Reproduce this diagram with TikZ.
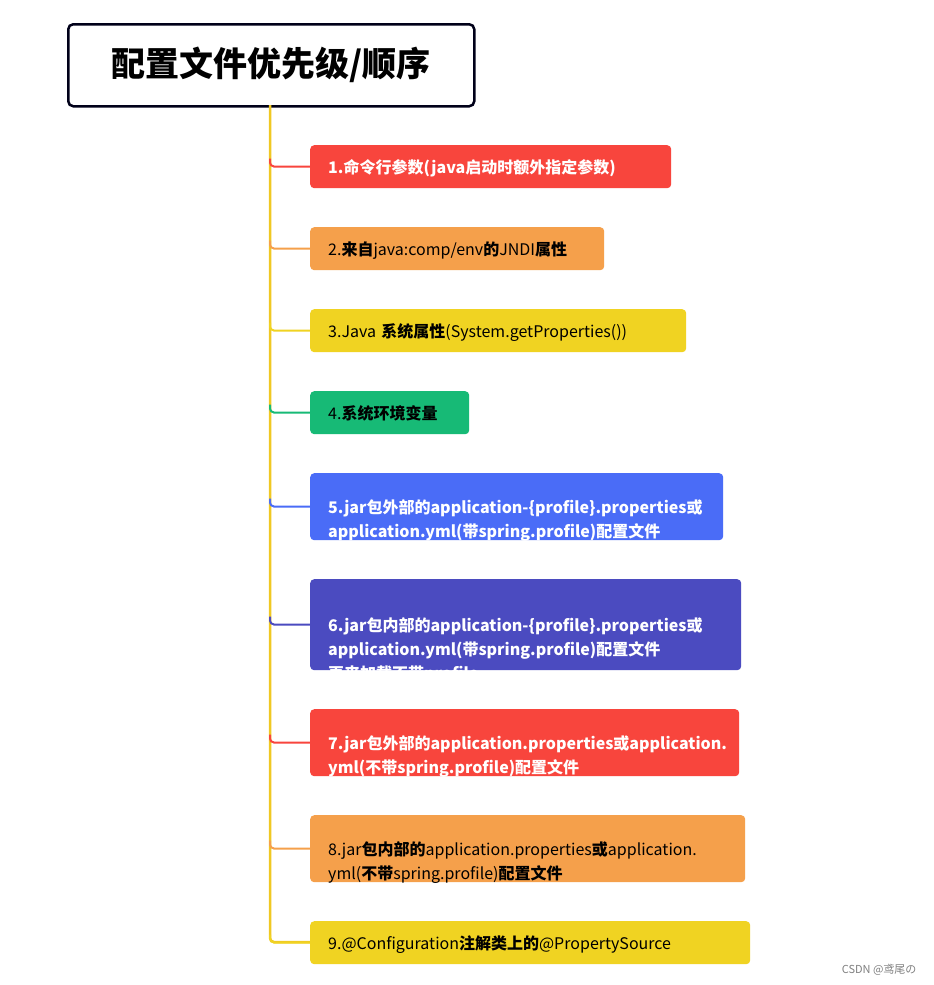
\documentclass[tikz,border=0pt]{standalone}
\usepackage{fontspec}
\setmainfont{Noto Sans CJK SC}
\newcommand{\z}[1]{\textbf{#1}}
\definecolor{cred}{HTML}{F8453D}
\definecolor{corg}{HTML}{F5A04B}
\definecolor{cyel}{HTML}{F0D322}
\definecolor{cgrn}{HTML}{17BA76}
\definecolor{cblu}{HTML}{4A6CF7}
\definecolor{cind}{HTML}{4B4BC0}
\definecolor{cline}{HTML}{F0C823}
\begin{document}
\begin{tikzpicture}[x=1pt,y=-1pt,
  item/.style={anchor=north west,rounded corners=4pt,inner xsep=18pt,inner ysep=0pt,align=left,font=\fontsize{16}{24}\selectfont,text depth=0pt},
  br/.style={line width=2pt}]
\useasboundingbox[fill=white] (0,0) rectangle (934,985);
\node[draw=black!90!blue,line width=2.5pt,rounded corners=5pt,minimum width=406pt,minimum height=82pt,anchor=north west,font=\fontsize{34}{40}\selectfont\bfseries] (title) at (67,23) {配置文件优先级/顺序};
\coordinate (top) at (270,105);
\coordinate (bot) at (270,942);
\draw[cline,line width=2.5pt,rounded corners=4pt] (top) -- (bot) -- (310,942);
\def\mk#1#2#3#4#5#6#7{%
  \node[item,fill=#3,text=#4,text width=#5pt,minimum height=#6pt] (#1) at (310,#2) {#7};
  \draw[br,#3,rounded corners=4pt] (270,#2+#6/2-8) -- (270,#2+#6/2) -- (#1.west);}
\mk{n1}{145}{cred}{white}{325}{43}{\z{1.命令行参数(java启动时额外指定参数)}}
\mk{n2}{227}{corg}{black}{258}{43}{2.\z{来自}java:comp/env\z{的}JNDI\z{属性}}
\mk{n3}{309}{cyel}{black}{340}{43}{3.Java \z{系统属性}(System.getProperties())}
\mk{n4}{391}{cgrn}{black}{123}{43}{4.\z{系统环境变量}}
\mk{n5}{473}{cblu}{white}{377}{67}{\z{5.jar包外部的application-\{profile\}.properties或 application.yml(带spring.profile)配置文件}}
\mk{n6}{579}{cind}{white}{395}{91}{\z{6.jar包内部的application-\{profile\}.properties或 application.yml(带spring.profile)配置文件 再来加载不带profile}}
\mk{n7}{709}{cred}{white}{393}{67}{\z{7.jar包外部的application.properties或application. yml(不带spring.profile)配置文件}}
\mk{n8}{815}{corg}{black}{399}{67}{8.jar\z{包内部的}application.properties\z{或}application. yml(\z{不带}spring.profile)\z{配置文件}}
\mk{n9}{921}{cyel}{black}{404}{43}{9.@Configuration\z{注解类上的}@PropertySource}
\node[anchor=east,text=gray,font=\fontsize{11}{12}\selectfont] (wm) at (920,970) {CSDN @鸢尾の};
\end{tikzpicture}
\end{document}
